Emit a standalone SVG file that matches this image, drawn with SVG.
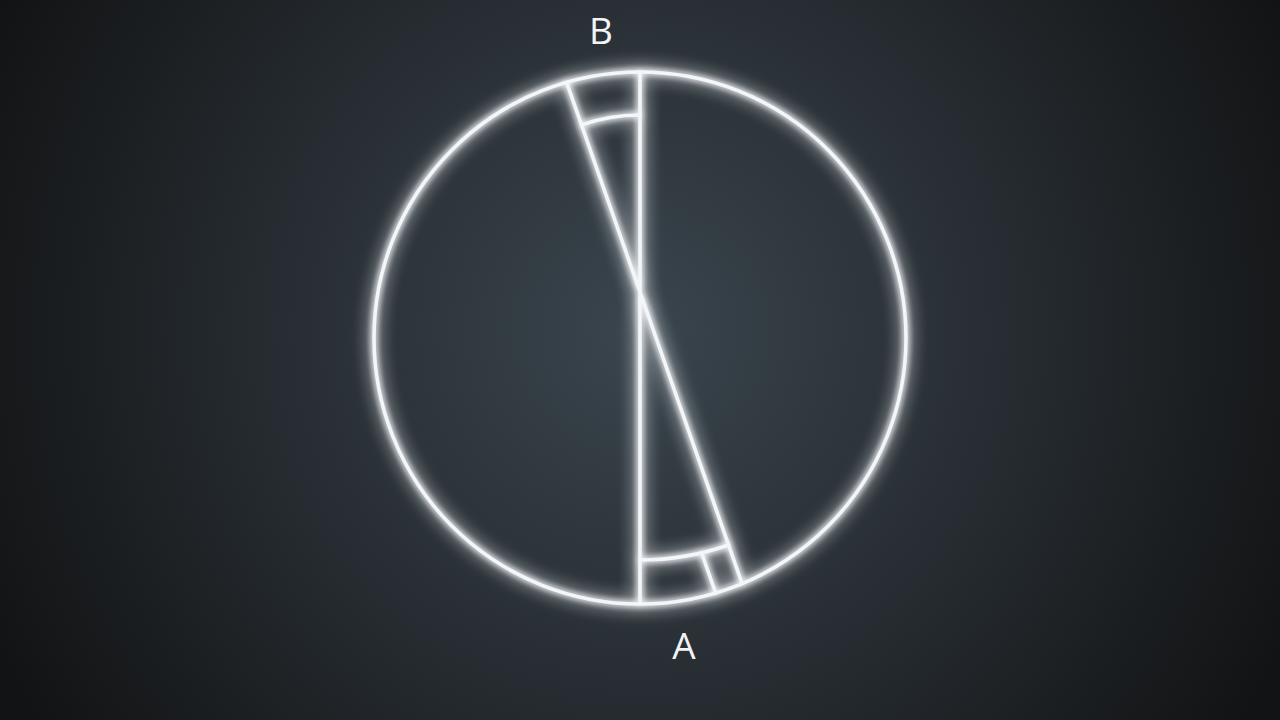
<svg xmlns="http://www.w3.org/2000/svg" width="1280" height="720" viewBox="0 0 1280 720">
  <defs>
    <radialGradient id="bg" cx="640" cy="330" r="720" gradientUnits="userSpaceOnUse">
      <stop offset="0" stop-color="#3a454d"/>
      <stop offset="0.4" stop-color="#2b3238"/>
      <stop offset="1" stop-color="#121314"/>
    </radialGradient>
    <filter id="glow" x="-20%" y="-20%" width="140%" height="140%">
      <feGaussianBlur in="SourceGraphic" stdDeviation="9" result="b1"/>
      <feGaussianBlur in="SourceGraphic" stdDeviation="3" result="b2"/>
      <feMerge>
        <feMergeNode in="b1"/>
        <feMergeNode in="b1"/>
        <feMergeNode in="b2"/>
        <feMergeNode in="b2"/>
        <feMergeNode in="SourceGraphic"/>
      </feMerge>
    </filter>
    <style>
      .ln { fill: none; stroke: #f4f7fa; stroke-width: 3.5; stroke-linecap: round; }
      .lbl { font-family: "Open Sans", "Liberation Sans", sans-serif; font-size: 37px; fill: #f2f4f6; text-anchor: middle; }
    </style>
  </defs>
  <rect width="1280" height="720" fill="url(#bg)"/>
  <g id="figure" filter="url(#glow)">
    <g id="circle">
      <circle class="ln" cx="640" cy="338" r="266"/>
    </g>
    <g id="connectors">
      <line class="ln" x1="640" y1="72" x2="640" y2="604"/>
      <line class="ln" x1="566.6" y1="82.4" x2="742.1" y2="583.6"/>
      <path class="ln" d="M581.5,124.9 A177,177 0 0 1 640,115"/>
      <path class="ln" d="M640,560 A268,268 0 0 0 728.5,545"/>
      <line class="ln" x1="701.6" y1="552.8" x2="715.7" y2="593"/>
    </g>
  </g>
  <g id="label-B"><text class="lbl" x="601" y="44">B</text></g>
  <g id="label-A"><text class="lbl" x="684" y="659">A</text></g>
</svg>
